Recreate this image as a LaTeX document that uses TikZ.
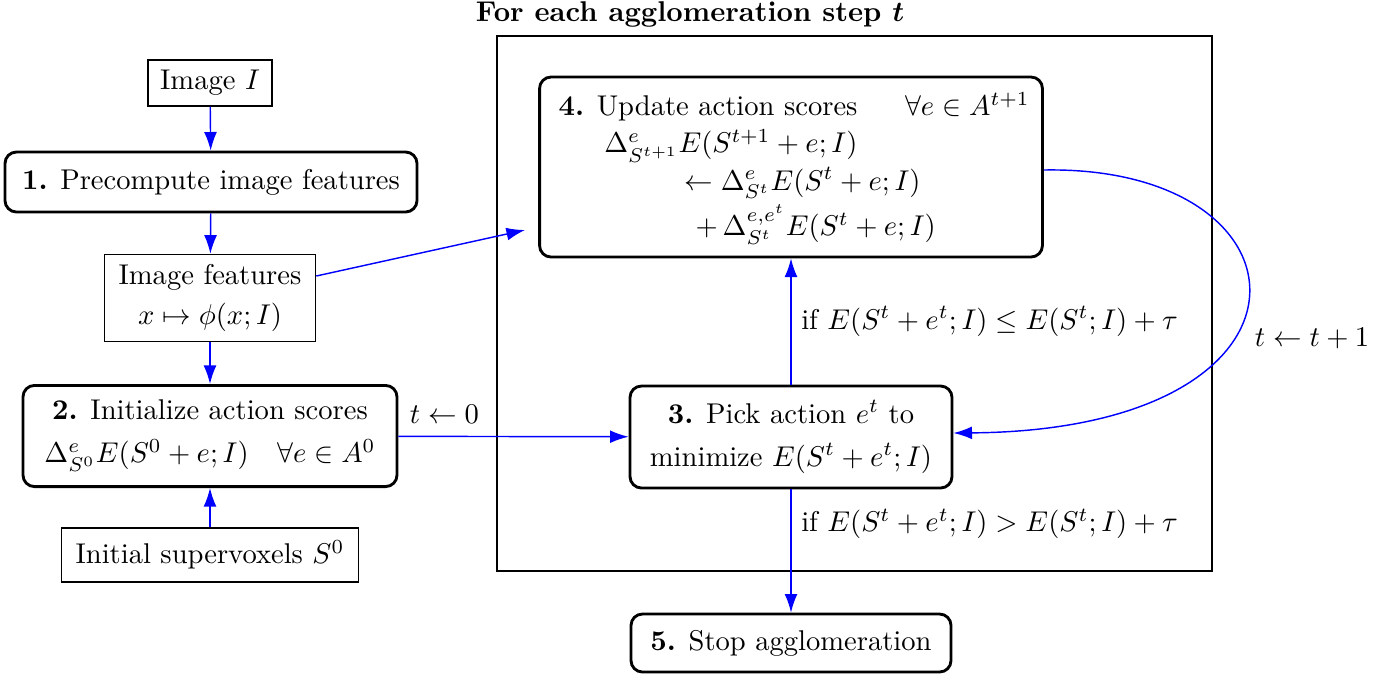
\documentclass[tikz,border=0pt]{standalone}
\usepackage{amsmath,amssymb}
\usetikzlibrary{arrows.meta}
\begin{document}
\begin{tikzpicture}[x=0.35pt,y=-0.35pt,
  plain/.style={draw,line width=0.5pt,inner sep=0pt,align=center},
  stepbox/.style={draw,line width=1pt,rounded corners=4pt,inner sep=0pt,align=center},
  arr/.style={blue,line width=0.5pt,-{Latex[length=6.5pt,width=4.5pt]}}]
\useasboundingbox (0,0) rectangle (1373,679);
\draw[line width=0.5pt] (497,36) rectangle (1212,571);
\node[font=\bfseries] (title) at (690,14) {For each agglomeration step $\boldsymbol{t}$};
\node[plain,minimum width=43.4pt,minimum height=16.1pt] (img) at (210,83) {Image $I$};
\node[stepbox,minimum width=144.2pt,minimum height=21pt] (s1) at (211,182) {\textbf{1.} Precompute image features};
\node[plain,minimum width=73.9pt,minimum height=30.5pt] (feat) at (210,298) {Image features\\[2pt] $x\mapsto\phi(x;I)$};
\node[stepbox,minimum width=130.9pt,minimum height=35.4pt] (s2) at (210,436) {\textbf{2.} Initialize action scores\\[3pt] $\Delta^e_{S^0}E(S^0+e;I)\quad\forall e\in A^0$};
\node[plain,minimum width=104pt,minimum height=18.9pt] (sv) at (210,555) {Initial supervoxels $S^0$};
\node[stepbox,minimum width=176pt,minimum height=63pt] (s4) at (791,167) {};
\node[anchor=north west,align=left,inner sep=0pt] (s4t) at (558,92) {\textbf{4.} Update action scores\quad\ \ $\forall e\in A^{t+1}$\\[1pt]
\hspace*{16pt}$\Delta^e_{S^{t+1}}E(S^{t+1}+e;I)$\\[1pt]
\hspace*{44pt}$\leftarrow\Delta^e_{S^t}E(S^t+e;I)$\\[1pt]
\hspace*{48pt}$+\,\Delta^{e,e^t}_{S^t}E(S^t+e;I)$};
\node[stepbox,minimum width=112.7pt,minimum height=35.7pt] (s3) at (791,437) {\textbf{3.} Pick action $e^t$ to\\[3pt] minimize $E(S^t+e^t;I)$};
\node[stepbox,minimum width=112pt,minimum height=20.3pt] (s5) at (791,643) {\textbf{5.} Stop agglomeration};
\coordinate (f4) at (525,230);
\draw[arr] (img) -- (s1);
\draw[arr] (s1) -- (feat);
\draw[arr] (feat) -- (s2);
\draw[arr] (sv) -- (s2);
\draw[arr] (s2) -- node[above,black,pos=0.2,yshift=1pt] {$t\leftarrow0$} (s3);
\draw[arr] (feat.east|-0,276) -- (f4);
\draw[arr] (s3) -- node[right,black,xshift=0pt] {if $E(S^t+e^t;I)\le E(S^t;I)+\tau$} (s4);
\draw[arr] (s3) -- node[right,black,pos=0.28,xshift=0pt] {if $E(S^t+e^t;I)> E(S^t;I)+\tau$} (s5);
\draw[arr] (s4.east|-0,170) .. controls (1320,165) and (1340,430) .. (s3.east|-0,433);
\node (lab) at (1312,338) {$t\leftarrow t+1$};
\end{tikzpicture}
\end{document}
